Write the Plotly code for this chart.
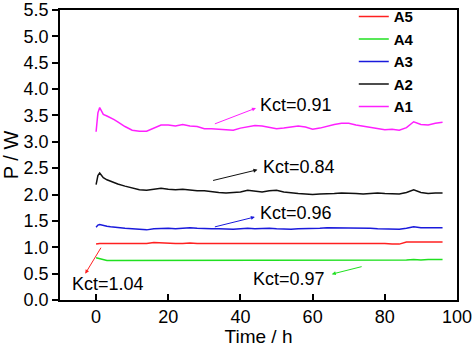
import plotly.graph_objects as go

T = [0, 0.5, 1, 1.5, 2, 3, 4, 5, 6, 8, 10, 12, 14, 16, 18, 20, 22, 24, 26, 28, 30, 32, 34, 36, 38, 40,
     42, 44, 46, 48, 50, 52, 54, 56, 58, 60, 62, 64, 66, 68, 70, 72, 74, 76, 78, 80, 82, 84, 86, 88, 90, 92, 94, 96]

A1 = [3.19, 3.55, 3.65, 3.58, 3.52, 3.49, 3.46, 3.42, 3.38, 3.29, 3.22, 3.20, 3.20, 3.26, 3.32, 3.32, 3.30, 3.33,
      3.30, 3.29, 3.25, 3.25, 3.24, 3.22, 3.22, 3.26, 3.29, 3.31, 3.30, 3.28, 3.25, 3.26, 3.28, 3.30, 3.28, 3.24,
      3.26, 3.30, 3.33, 3.35, 3.35, 3.32, 3.30, 3.27, 3.25, 3.23, 3.24, 3.22, 3.27, 3.38, 3.33, 3.32, 3.35, 3.37]
A2 = [2.19, 2.36, 2.41, 2.36, 2.32, 2.28, 2.25, 2.23, 2.20, 2.16, 2.12, 2.09, 2.08, 2.10, 2.12, 2.10, 2.09, 2.10,
      2.08, 2.07, 2.07, 2.05, 2.04, 2.03, 2.04, 2.05, 2.08, 2.06, 2.05, 2.07, 2.08, 2.05, 2.03, 2.02, 2.01, 2.00,
      2.01, 2.01, 2.02, 2.03, 2.03, 2.02, 2.01, 2.02, 2.03, 2.02, 2.01, 2.01, 2.04, 2.09, 2.04, 2.02, 2.03, 2.03]
A3 = [1.38, 1.42, 1.43, 1.42, 1.41, 1.40, 1.39, 1.38, 1.37, 1.36, 1.35, 1.34, 1.33, 1.35, 1.36, 1.36, 1.35, 1.36,
      1.37, 1.36, 1.35, 1.35, 1.35, 1.34, 1.34, 1.35, 1.36, 1.35, 1.36, 1.36, 1.35, 1.34, 1.34, 1.35, 1.35, 1.35,
      1.36, 1.37, 1.37, 1.36, 1.37, 1.37, 1.36, 1.36, 1.35, 1.35, 1.34, 1.34, 1.36, 1.39, 1.37, 1.37, 1.37, 1.37]
A5 = [1.06, 1.07, 1.07, 1.07, 1.07, 1.07, 1.06, 1.07, 1.07, 1.07, 1.06, 1.07, 1.07, 1.09, 1.08, 1.07, 1.07, 1.07,
      1.08, 1.07, 1.07, 1.07, 1.08, 1.07, 1.07, 1.07, 1.08, 1.08, 1.07, 1.07, 1.08, 1.07, 1.07, 1.07, 1.08, 1.07,
      1.07, 1.07, 1.08, 1.08, 1.07, 1.07, 1.08, 1.07, 1.07, 1.07, 1.06, 1.06, 1.10, 1.10, 1.09, 1.10, 1.10, 1.10]
A4 = [0.80, 0.79, 0.78, 0.77, 0.76, 0.75, 0.75, 0.75, 0.75, 0.75, 0.75, 0.75, 0.75, 0.75, 0.76, 0.75, 0.75, 0.75,
      0.75, 0.75, 0.75, 0.76, 0.75, 0.75, 0.75, 0.75, 0.75, 0.75, 0.75, 0.75, 0.75, 0.75, 0.75, 0.75, 0.75, 0.75,
      0.75, 0.75, 0.75, 0.76, 0.76, 0.76, 0.76, 0.76, 0.76, 0.76, 0.76, 0.76, 0.76, 0.77, 0.76, 0.77, 0.77, 0.77]

SERIES = [("A5", A5, "#ff2020"), ("A4", A4, "#20e020"), ("A3", A3, "#1a1adc"),
          ("A2", A2, "#101010"), ("A1", A1, "#ff20ff")]

# Kct labels: (text, text_x, text_y, arrow_tail_x, arrow_tail_y, arrow_head_x, arrow_head_y, color)
KCT = [
    ("Kct=0.91", 44.8, 3.70, 32.5, 3.33, 44.3, 3.64, "#ff20ff"),
    ("Kct=0.84", 45.6, 2.53, 32.0, 2.26, 44.7, 2.47, "#101010"),
    ("Kct=0.96", 44.8, 1.65, 32.5, 1.38, 44.0, 1.575, "#1a1adc"),
    ("Kct=1.04", -7.3, 0.30, 1.6, 1.02, -3.0, 0.50, "#ff2020"),
    ("Kct=0.97", 43.0, 0.39, 74.0, 0.64, 65.3, 0.49, "#20e020"),
]

FONT = "Arial, Liberation Sans, sans-serif"

fig = go.Figure()
for name, vals, col in SERIES:
    fig.add_trace(go.Scatter(x=T, y=vals, mode="lines", name="<b>%s</b>" % name,
                             line=dict(color=col, width=1.5)))

for txt, tx, ty, ax, ay, hx, hy, col in KCT:
    fig.add_annotation(x=tx, y=ty, text=txt, showarrow=False, xanchor="left",
                       font=dict(family=FONT, size=18, color="black"))
    fig.add_annotation(x=hx, y=hy, ax=ax, ay=ay, xref="x", yref="y", axref="x", ayref="y",
                       text="", showarrow=True, arrowhead=2, arrowsize=0.8, arrowwidth=1,
                       arrowcolor=col)

fig.update_layout(
    width=474, height=347,
    margin=dict(l=60, r=17, t=10, b=47, autoexpand=False),
    plot_bgcolor="white", paper_bgcolor="white",
    font=dict(family=FONT, size=18, color="black"),
    legend=dict(x=0.740, y=1.034, xanchor="left", yanchor="top", bgcolor="rgba(0,0,0,0)",
                font=dict(family=FONT, size=15, color="black"), tracegroupgap=0),
    showlegend=True,
)
fig.update_xaxes(range=[-10, 100], tickvals=[0, 20, 40, 60, 80, 100], ticks="inside", ticklen=6,
                 tickwidth=1.5, tickcolor="black", showline=True, linecolor="black", linewidth=1.5,
                 mirror=True, showgrid=False, zeroline=False, automargin=False,
                 ticklabeloverflow="allow",
                 title=dict(text="Time / h", font=dict(size=19), standoff=7))
fig.update_yaxes(range=[0, 5.5], tickvals=[0, 0.5, 1, 1.5, 2, 2.5, 3, 3.5, 4, 4.5, 5, 5.5],
                 ticktext=["0.0", "0.5", "1.0", "1.5", "2.0", "2.5", "3.0", "3.5", "4.0", "4.5", "5.0", "5.5"],
                 ticks="outside", ticklen=6, tickwidth=1.5, tickcolor="black",
                 showline=True, linecolor="black", linewidth=1.5, mirror=True, showgrid=False,
                 zeroline=False, automargin=False, ticklabeloverflow="allow",
                 title=dict(text="P / W", font=dict(size=20), standoff=2))

fig.write_html("out.html")
